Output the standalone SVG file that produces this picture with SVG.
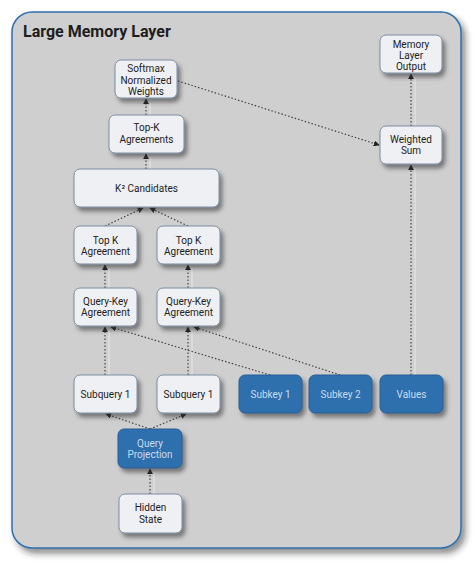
<svg xmlns="http://www.w3.org/2000/svg" width="474" height="568" viewBox="0 0 474 568">
<defs>
<filter id="sh" x="-30%" y="-30%" width="160%" height="170%">
<feDropShadow dx="3" dy="4" stdDeviation="2" flood-color="#333" flood-opacity="0.55"/>
</filter>
<filter id="shc" x="-10%" y="-10%" width="120%" height="120%">
<feDropShadow dx="4" dy="5" stdDeviation="3" flood-color="#222" flood-opacity="0.5"/>
</filter>
<marker id="ah" viewBox="0 0 8 8" refX="7" refY="4" markerWidth="6" markerHeight="6" orient="auto" markerUnits="userSpaceOnUse">
<path d="M0,0 L8,4 L0,8 z" fill="#222"/>
</marker>
</defs>
<style>
.n rect{fill:#eef0f3;stroke:#7d8ea3;stroke-width:1;}
.b rect{fill:#2f6fad;stroke:#2a5f95;stroke-width:1;}
text{font-family:Roboto,"Liberation Sans",sans-serif;font-size:10px;text-anchor:middle;}
.n text{fill:#222;}
.b text{fill:#c9dcf0;}
.e line{stroke:#444;stroke-width:1.2;stroke-dasharray:1.5,2;fill:none;marker-end:url(#ah);}
.g line{stroke:#e6e6e6;stroke-width:1.5;opacity:0.7;}
</style>
<rect width="474" height="568" fill="#ffffff"/>
<g id="container">
<rect x="12" y="12" width="449" height="536" rx="20" fill="#cfcfcf" stroke="#2f6fad" stroke-width="1.5" filter="url(#shc)"/>
<text x="23" y="37" style="font-size:16px;font-weight:bold;text-anchor:start;fill:#1e1e1e">Large Memory Layer</text>
</g>
<g id="connectors">
<g class="g">
<line x1="154" y1="496" x2="154" y2="472"/>
<line x1="109" y1="377" x2="109" y2="330"/>
<line x1="192" y1="377" x2="192" y2="330"/>
<line x1="109" y1="290" x2="109" y2="268"/>
<line x1="192" y1="290" x2="192" y2="268"/>
<line x1="150" y1="171" x2="150" y2="157"/>
<line x1="150" y1="117" x2="150" y2="102"/>
<line x1="415" y1="377" x2="415" y2="168"/>
<line x1="415" y1="128" x2="415" y2="77"/>
</g>
<g class="e">
<line x1="150" y1="494" x2="150" y2="469"/>
<line x1="150" y1="429" x2="106" y2="414"/>
<line x1="150" y1="429" x2="186" y2="414"/>
<line x1="105" y1="375" x2="105" y2="327"/>
<line x1="188" y1="375" x2="188" y2="327"/>
<line x1="270" y1="375" x2="111" y2="327"/>
<line x1="340" y1="375" x2="194" y2="327"/>
<line x1="105" y1="288" x2="105" y2="265"/>
<line x1="188" y1="288" x2="188" y2="265"/>
<line x1="105" y1="226" x2="143" y2="208"/>
<line x1="188" y1="226" x2="150" y2="208"/>
<line x1="146" y1="169" x2="146" y2="154"/>
<line x1="146" y1="115" x2="146" y2="99"/>
<line x1="178" y1="81" x2="379" y2="145"/>
<line x1="411" y1="375" x2="411" y2="165"/>
<line x1="411" y1="126" x2="411" y2="74"/>
</g>
</g>
<g id="softmax" class="n"><rect x="115" y="60" width="62" height="38" rx="6" filter="url(#sh)"/><text x="146" y="72">Softmax</text><text x="146" y="83.5">Normalized</text><text x="146" y="95">Weights</text></g>
<g id="topk-agreements" class="n"><rect x="109" y="115" width="75" height="38" rx="6" filter="url(#sh)"/><text x="146.5" y="131">Top-K</text><text x="146.5" y="143">Agreements</text></g>
<g id="k2" class="n"><rect x="74" y="169" width="145" height="38" rx="6" filter="url(#sh)"/><text x="146.5" y="192">K² Candidates</text></g>
<g id="topk1" class="n"><rect x="74" y="226" width="63" height="38" rx="6" filter="url(#sh)"/><text x="105.5" y="244">Top K</text><text x="105.5" y="255">Agreement</text></g>
<g id="topk2" class="n"><rect x="157" y="226" width="63" height="38" rx="6" filter="url(#sh)"/><text x="188.5" y="244">Top K</text><text x="188.5" y="255">Agreement</text></g>
<g id="qk1" class="n"><rect x="74" y="288" width="63" height="38" rx="6" filter="url(#sh)"/><text x="105.5" y="305">Query-Key</text><text x="105.5" y="316">Agreement</text></g>
<g id="qk2" class="n"><rect x="157" y="288" width="63" height="38" rx="6" filter="url(#sh)"/><text x="188.5" y="305">Query-Key</text><text x="188.5" y="316">Agreement</text></g>
<g id="subquery1a" class="n"><rect x="74" y="375" width="63" height="38" rx="6" filter="url(#sh)"/><text x="105.5" y="397.5">Subquery 1</text></g>
<g id="subquery1b" class="n"><rect x="157" y="375" width="63" height="38" rx="6" filter="url(#sh)"/><text x="188.5" y="397.5">Subquery 1</text></g>
<g id="subkey1" class="b"><rect x="239" y="375" width="63" height="38" rx="6" filter="url(#sh)"/><text x="270.5" y="397.5">Subkey 1</text></g>
<g id="subkey2" class="b"><rect x="309" y="375" width="63" height="38" rx="6" filter="url(#sh)"/><text x="340.5" y="397.5">Subkey 2</text></g>
<g id="values" class="b"><rect x="380" y="375" width="63" height="38" rx="6" filter="url(#sh)"/><text x="411.5" y="397.5">Values</text></g>
<g id="query-projection" class="b"><rect x="118" y="429" width="64" height="39" rx="6" filter="url(#sh)"/><text x="150" y="447">Query</text><text x="150" y="458">Projection</text></g>
<g id="hidden-state" class="n"><rect x="119" y="494" width="63" height="39" rx="6" filter="url(#sh)"/><text x="150.5" y="511">Hidden</text><text x="150.5" y="522.5">State</text></g>
<g id="memory-output" class="n"><rect x="380" y="35" width="62" height="38" rx="6" filter="url(#sh)"/><text x="411" y="48">Memory</text><text x="411" y="59">Layer</text><text x="411" y="70">Output</text></g>
<g id="weighted-sum" class="n"><rect x="380" y="126" width="62" height="38" rx="6" filter="url(#sh)"/><text x="411" y="143">Weighted</text><text x="411" y="154">Sum</text></g>
</svg>
